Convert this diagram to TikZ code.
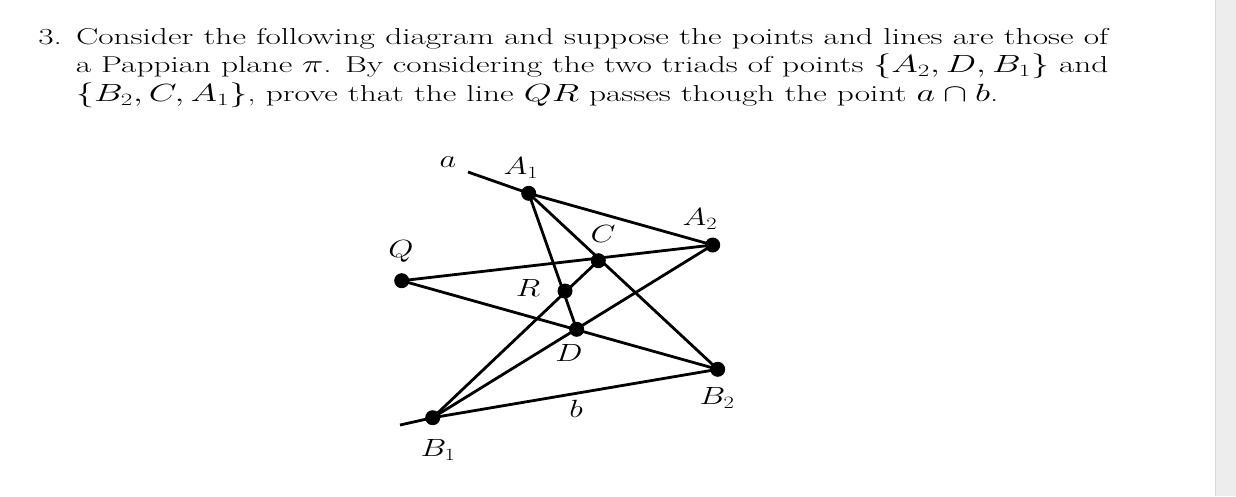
\documentclass[tikz,border=0pt]{standalone}
\usepackage{fontspec}
\begin{document}
\begin{tikzpicture}[x=1pt,y=-1pt,
  dot/.style={circle,fill=black,inner sep=0pt,minimum size=15pt},
  lbl/.style={inner sep=0pt,xscale=1.3,font=\fontsize{23}{27}\selectfont},
  ln/.style={line width=2.8pt}]
\useasboundingbox (0,0) rectangle (1236,496);
\fill[white] (0,0) rectangle (1236,496);
\fill[black!7] (1215,0) rectangle (1236,496);
\draw[black!15] (1215,0) -- (1215,496);
\node[anchor=north west,inner sep=0pt,xscale=1.45,text width=738pt,font=\fontsize{23}{28.5}\selectfont,align=justify] (txt) at (38,28)
{\hangindent=26pt\hangafter=1 3. Consider the following diagram and suppose the points and lines are those of a Pappian plane $\pi$. By considering the two triads of points $\{A_2,D,B_1\}$ and $\{B_2,C,A_1\}$, prove that the line $QR$ passes though the point $a\cap b$.\par};
\coordinate (as) at (468,172);
\coordinate (bs) at (400,425);
\node[dot] (A1) at (528.7,193.3) {};
\node[dot] (A2) at (712.7,245) {};
\node[dot] (C) at (598.3,260.7) {};
\node[dot] (Q) at (401.7,280.7) {};
\node[dot] (R) at (565,291) {};
\node[dot] (D) at (576.7,329.3) {};
\node[dot] (B2) at (717.7,369.3) {};
\node[dot] (B1) at (432.7,417.7) {};
\draw[ln] (as) -- (A1.center) -- (A2.center);
\draw[ln] (bs) -- (B1.center) -- (B2.center);
\draw[ln] (Q.center) -- (A2.center);
\draw[ln] (Q.center) -- (B2.center);
\draw[ln] (A1.center) -- (D.center);
\draw[ln] (A1.center) -- (B2.center);
\draw[ln] (B1.center) -- (C.center);
\draw[ln] (B1.center) -- (A2.center);
\node[lbl] (la) at (448,162) {$a$};
\node[lbl] (lA1) at (521,168) {$A_1$};
\node[lbl] (lA2) at (700,219) {$A_2$};
\node[lbl] (lC) at (603,234) {$C$};
\node[lbl] (lQ) at (401,251) {$Q$};
\node[lbl] (lR) at (528,288) {$R$};
\node[lbl] (lD) at (569,353) {$D$};
\node[lbl] (lB2) at (717,398) {$B_2$};
\node[lbl] (lb) at (576,409) {$b$};
\node[lbl] (lB1) at (438,450) {$B_1$};
\end{tikzpicture}
\end{document}
